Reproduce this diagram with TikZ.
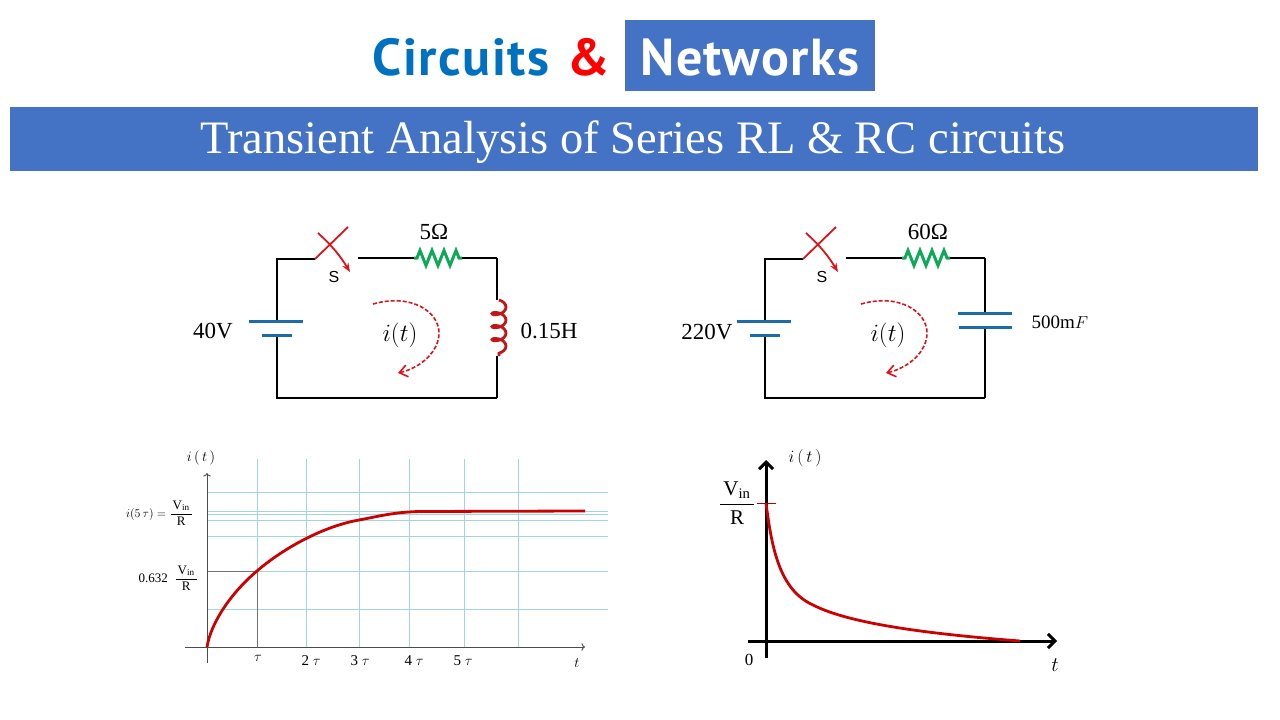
\documentclass[tikz,border=0pt]{standalone}
\usepackage{amsmath}
\usepackage{fontspec}
\setmainfont{Liberation Serif}
\newfontfamily\titlefont[LetterSpace=3]{PT Sans}
\newfontfamily\labelfont{Liberation Sans}
\usetikzlibrary{arrows,arrows.meta,decorations.pathmorphing}
\definecolor{bannerblue}{HTML}{4472C4}
\definecolor{titleblue}{HTML}{0070C0}
\definecolor{batteryblue}{HTML}{1B6CA8}
\definecolor{resgreen}{HTML}{10A858}
\definecolor{coilred}{HTML}{C01818}
\definecolor{arcred}{HTML}{D8141C}
\definecolor{gridcyan}{HTML}{A0D6DE}
\newcommand{\vfrac}{\dfrac{\,\mathrm{V_{in}}\,}{\mathrm{R}}}
\tikzset{
  wire/.style={line width=1.9pt},
  plate/.style={line width=3pt, batteryblue},
  zigzagres/.style={line width=3pt, resgreen, decorate, decoration={zigzag, segment length=12pt, amplitude=7.5pt, pre length=3pt, post length=3pt}},
  coilind/.style={line width=2.8pt, coilred, decorate, decoration={coil, aspect=0.55, segment length=13pt, amplitude=7pt}},
  switchline/.style={line width=1.8pt, arcred},
  looparc/.style={line width=1.6pt, arcred, dash pattern=on 4pt off 2pt},
  gridline/.style={line width=0.9pt, gridcyan, dash pattern=on 1.5pt off 0.5pt},
  smallaxis/.style={line width=0.9pt, black!70, ->},
  bigaxis/.style={line width=3pt, -{Straight Barb[length=7pt,width=14pt]}},
  curvered/.style={line width=2.8pt, red!80!black},
  cirlabel/.style={font=\fontsize{23}{25}\selectfont},
  titletext/.style={anchor=base, font=\titlefont\bfseries\fontsize{52}{54}\selectfont},
  ticklabel/.style={font=\fontsize{15}{17}\selectfont}
}
\begin{document}
\begin{tikzpicture}[x=1pt, y=-1pt]
\useasboundingbox (0,0) rectangle (1280,720);
% heading
\node[fill=bannerblue, minimum width=250pt, minimum height=71pt, inner sep=0pt] (netbox) at (750,55.5) {};
\node[titletext, text=titleblue] (circuits) at (461,75) {Circuits};
\node[titletext, text=red] (amp) at (589,75) {\&};
\node[titletext, text=white] (networks) at (750,75) {Networks};
\node[fill=bannerblue, minimum width=1248pt, minimum height=64pt, inner sep=0pt] (banner) at (634,139) {};
\node[text=white, font=\fontsize{46.5}{50}\selectfont] (bannertext) at (633,142) {Transient Analysis of Series RL \& RC circuits};
% the parts both circuits share
\foreach \c/\dx in {a/0,b/488} {
  \coordinate (\c-tl) at (277+\dx,259);
  \coordinate (\c-bl) at (277+\dx,398);
  \coordinate (\c-br) at (497+\dx,398);
  \coordinate (\c-tr) at (497+\dx,258);
  \coordinate (\c-sw1) at (315+\dx,259);
  \coordinate (\c-sw2) at (348+\dx,227);
  \coordinate (\c-sw3) at (318+\dx,233);
  \coordinate (\c-sw4) at (350+\dx,272);
  \coordinate (\c-w1) at (358+\dx,258);
  \coordinate (\c-r1) at (414+\dx,258);
  \coordinate (\c-r2) at (462+\dx,258);
  \coordinate (\c-batp) at (277+\dx,321);
  \coordinate (\c-batn) at (277+\dx,335);
  \coordinate (\c-arc1) at (373+\dx,304);
  \coordinate (\c-arc2) at (398+\dx,373);
  \draw[wire] (\c-sw1) -- (\c-tl) -- (\c-batp);
  \draw[wire] (\c-batn) -- (\c-bl) -- (\c-br);
  \draw[wire] (\c-w1) -- (\c-r1);
  \draw[wire] (\c-r2) -- (\c-tr);
  \draw[plate] (249+\dx,321) -- (303+\dx,321);
  \draw[plate] (262+\dx,335) -- (292+\dx,335);
  \draw[zigzagres] (\c-r1) -- (\c-r2);
  \draw[switchline] (\c-sw1) -- (\c-sw2);
  \draw[switchline, -{Stealth[length=9pt,width=7pt]}, bend left=8] (\c-sw3) to (\c-sw4);
  \draw[looparc, -{Straight Barb[length=8pt,width=12pt]}] (\c-arc1) .. controls (412+\dx,293) and (439+\dx,312) .. (439+\dx,333) .. controls (439+\dx,352) and (420+\dx,368) .. (\c-arc2);
  \node[font=\labelfont\fontsize{16}{18}\selectfont] (\c-s) at (334+\dx,277) {S};
  \node[font=\fontsize{28}{30}\selectfont] (\c-i) at (400+\dx,335) {$i(t)$};
}
% rl circuit
\coordinate (a-l1) at (497,300);
\coordinate (a-l2) at (497,356);
\draw[wire] (a-tr) -- (a-l1);
\draw[wire] (a-l2) -- (a-br);
\draw[coilind] ([xshift=2pt]a-l1) -- ([xshift=2pt]a-l2);
\node[cirlabel] (a-v) at (213,331) {40V};
\node[cirlabel] (a-ohm) at (434,232) {5Ω};
\node[cirlabel] (a-ind) at (549,331) {0.15H};
% rc circuit
\coordinate (b-c1) at (985,313);
\coordinate (b-c2) at (985,327);
\draw[wire] (b-tr) -- (b-c1);
\draw[wire] (b-c2) -- (b-br);
\draw[plate] (958,313) -- (1012,313);
\draw[plate] (959,327) -- (1012,327);
\node[cirlabel] (b-v) at (707,332) {220V};
\node[cirlabel] (b-ohm) at (928,232) {60Ω};
\node[font=\fontsize{19}{21}\selectfont] (b-cap) at (1060,322) {500m$F$};
% rising current plot
\foreach \x in {257,306,359,409,464,518} {\draw[gridline] (\x,459) -- (\x,647);}
\foreach \y in {492,511,514,520,536,571,609} {\draw[gridline] (207,\y) -- (608,\y);}
\coordinate (p-o) at (207,647);
\coordinate (p-tau) at (257,647);
\coordinate (p-knee) at (257,571);
\coordinate (p-mid) at (359,520);
\coordinate (p-flat) at (420,511.5);
\coordinate (p-end) at (585,511);
\draw[line width=0.8pt, black!55] (207,571) -- (p-knee) -- (p-tau);
\draw[smallaxis] (207,663) -- (207,473);
\draw[smallaxis] (185,647) -- (585,647);
\draw[curvered] (p-o) .. controls (211,622) and (232,592) .. (p-knee) .. controls (280,551) and (320,527) .. (p-mid) .. controls (380,516) and (395,512) .. (p-flat) -- (p-end);
\node[font=\fontsize{15}{17}\selectfont] (p-it) at (201,458) {$i\,(\,t\,)$};
\node[font=\fontsize{15}{17}\selectfont] (p-t) at (577,663) {$t$};
\node[font=\fontsize{15}{17}\selectfont] (p-t1) at (258,658) {$\tau$};
\node[ticklabel] (p-t2) at (311,661) {2 $\tau$};
\node[ticklabel] (p-t3) at (360,661) {3 $\tau$};
\node[ticklabel] (p-t4) at (414,661) {4 $\tau$};
\node[ticklabel] (p-t5) at (463,661) {5 $\tau$};
\node[anchor=east, inner sep=0pt, font=\fontsize{13}{15}\selectfont] (p-i5) at (193,513) {$i(5\,\tau)=\vfrac$};
\node[anchor=east, inner sep=0pt, font=\fontsize{13}{15}\selectfont] (p-632) at (198,578) {0.632\ \ $\vfrac$};
% decaying current plot
\coordinate (q-top) at (766,503);
\coordinate (q-mid) at (813,605);
\coordinate (q-end) at (1020,641);
\draw[line width=0.9pt, red!70!black] (757,503) -- (776,503);
\draw[bigaxis] (766,658) -- (766,460);
\draw[bigaxis] (748,641) -- (1057,641);
\draw[curvered] (q-top) .. controls (772,550) and (780,590) .. (q-mid) .. controls (850,624) and (930,634) .. (q-end);
\node[font=\fontsize{18}{20}\selectfont] (q-it) at (805,458) {$i\,(\,t\,)$};
\node[font=\fontsize{21}{23}\selectfont] (q-frac) at (737,503) {$\vfrac$};
\node[font=\fontsize{17}{19}\selectfont] (q-0) at (749,660) {0};
\node[font=\fontsize{20}{22}\selectfont] (q-t) at (1055,665) {$t$};
\end{tikzpicture}
\end{document}
